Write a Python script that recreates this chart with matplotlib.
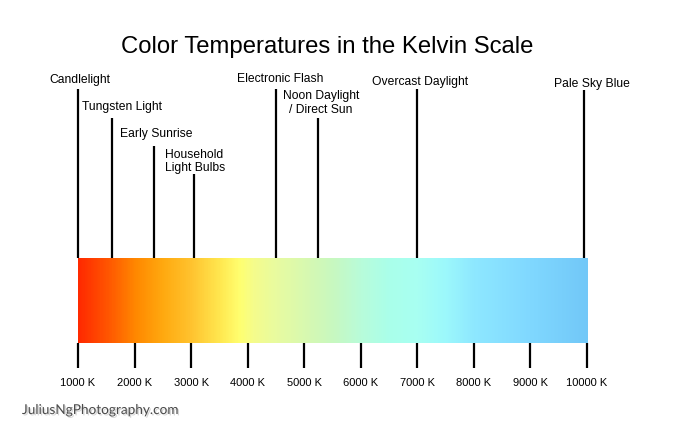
import numpy as np
import matplotlib
matplotlib.use("Agg")
import matplotlib.pyplot as plt
from matplotlib.colors import LinearSegmentedColormap
import matplotlib.patheffects as pe

plt.rcParams['font.family'] = ['Liberation Sans', 'DejaVu Sans']

# scale ticks
tick_temps = [1000, 2000, 3000, 4000, 5000, 6000, 7000, 8000, 9000, 10000]
tick_labels = [f"{t} K" for t in tick_temps]

# light sources and their temperatures
sources = ["Candlelight", "Tungsten Light", "Early Sunrise", "Household\nLight Bulbs",
           "Electronic Flash", "Noon Daylight\n/ Direct Sun", "Overcast Daylight", "Pale Sky Blue"]
source_temps = [1000, 1600, 2350, 3050, 4500, 5250, 7000, 9950]

# gradient colour stops
stop_temps = [1000, 1500, 2000, 2500, 3000, 3500, 3850, 4100, 4500, 5000,
              5500, 6000, 6500, 7000, 7500, 8000, 9000, 10000]
stop_colors = ["#ff2a00", "#ff5500", "#ff8800", "#ffaa10", "#ffc430", "#ffe850", "#ffff70",
               "#f5fc8c", "#e8fba0", "#d8f9b0", "#c8f8c0", "#b8fcda", "#aaffea", "#a8fff2",
               "#9cf8fc", "#8ee8ff", "#80d8ff", "#72c8f8"]

fig = plt.figure(figsize=(6.73, 4.28), dpi=100)
ax = fig.add_axes([0, 0, 1, 1])
# pixel mapping: 1000 K at x=78, 10000 K at x=587
k_per_px = 9000 / 509
ax.set_xlim(1000 - 78 * k_per_px, 1000 + (673 - 78) * k_per_px)
ax.set_ylim(428, 0)
ax.axis("off")

pos = [(t - 1000) / 9000 for t in stop_temps]
cmap = LinearSegmentedColormap.from_list("kelvin", list(zip(pos, stop_colors)))
grad = np.linspace(0, 1, 600).reshape(1, -1)
ax.imshow(grad, cmap=cmap, aspect="auto", extent=[1000, 10000, 343, 258], zorder=1)

# lines above the bar
line_tops = [89, 118, 146, 174, 89, 118, 89, 90]
ax.vlines(source_temps, line_tops, 258, color="black", lw=1.6, zorder=2)

# ticks below the bar
ax.vlines(tick_temps, 343, 368, color="black", lw=1.6)
for t, lab in zip(tick_temps, tick_labels):
    ax.text(t, 382.5, lab, ha="center", va="center", fontsize=8)

# labels of light sources (x in K, y in px, alignment)
label_pos = [(1035, 79.5, "center"), (1071, 106.5, "left"), (1743, 134.5, "left"),
             (2538, 161.5, "left"), (4572, 78.5, "center"), (5297, 103, "center"),
             (7047, 81.5, "center"), (10088, 83.5, "center")]
for name, (x, y, ha) in zip(sources, label_pos):
    ax.text(x, y, name, ha=ha, va="center", fontsize=8.7, linespacing=1.15,
            multialignment="center" if ha == "center" else "left")

ax.text(1000 + (327 - 78) * k_per_px, 46.5, "Color Temperatures in the Kelvin Scale",
        ha="center", va="center", fontsize=17.2)

ax.text(1000 - 56 * k_per_px, 410, "JuliusNgPhotography.com", ha="left", va="center",
        fontsize=9.8, family="Lato", color="#4a4a4a",
        path_effects=[pe.withSimplePatchShadow(offset=(1, -1), shadow_rgbFace="#999999", alpha=0.4)])

fig.savefig("out.png", dpi=100)
